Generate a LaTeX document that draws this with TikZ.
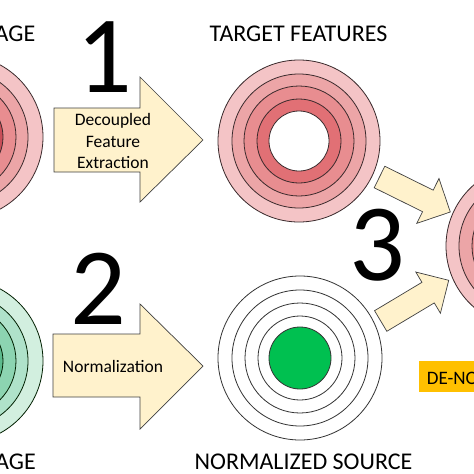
\documentclass[tikz,border=0pt]{standalone}
\usepackage{fontspec}
\setmainfont{Carlito}
\usetikzlibrary{calc}
\definecolor{rA}{HTML}{F4C4C6}
\definecolor{rB}{HTML}{ECA5A7}
\definecolor{rC}{HTML}{E88D90}
\definecolor{rD}{HTML}{E17075}
\definecolor{rE}{HTML}{C94E58}
\definecolor{gA}{HTML}{D2EFDF}
\definecolor{gB}{HTML}{AFE2CA}
\definecolor{gC}{HTML}{8CD4B1}
\definecolor{gD}{HTML}{5DBB8E}
\definecolor{gcore}{HTML}{00C050}
\definecolor{arrowfill}{HTML}{FFF2CC}
\definecolor{boxfill}{HTML}{FFC000}
\definecolor{ringline}{HTML}{3A2A2C}
\tikzset{
  ring/.style={draw=ringline, line width=0.8pt},
  bigarrow/.style={draw=black!75, fill=arrowfill, line width=0.7pt, line join=miter},
  smallarrow/.style={draw=black!75, fill=arrowfill, line width=0.7pt, line join=miter},
  title/.style={inner sep=0pt, anchor=base, font=\fontsize{24}{28}\selectfont, text=black},
  digit/.style={inner sep=0pt, anchor=base, font=\fontsize{110}{120}\selectfont, text=black},
  arrowtext/.style={inner sep=0pt, align=center, font=\fontsize{17.5}{21.5}\selectfont, text=black},
}
\begin{document}
\begin{tikzpicture}[x=1pt,y=-1pt]
\useasboundingbox (0,0) rectangle (474,474);
\fill[white] (0,0) rectangle (474,474);

% left red source image (cut)
\foreach \r/\c in {82/rA,67/rB,55/rC,42/rE}
  \filldraw[ring, fill=\c] (-39,137) circle[radius=\r];
% left green source image (cut)
\foreach \r/\c in {82/gA,67/gB,55/gC,42/gD}
  \filldraw[ring, draw=black!80!green!60!black, fill=\c] (-39,361) circle[radius=\r];

% target features
\foreach \r/\c in {81/rA,67/rB,55/rC,42/rD,30/white}
  \filldraw[ring, fill=\c] (299,141) circle[radius=\r];
\coordinate (tgt) at (299,141);

% normalized source
\foreach \r in {82,68,55,42}
  \filldraw[ring, draw=black!80, fill=white] (300,358) circle[radius=\r];
\filldraw[ring, draw=black!80, fill=gcore] (300,358) circle[radius=31];
\coordinate (nrm) at (300,358);

% right de-normalized image (cut)
\foreach \r/\c in {81/rA,68/rB,55/rC,42/rE}
  \filldraw[ring, fill=\c] (527,246) circle[radius=\r];
\coordinate (out) at (527,246);

% big arrows
\filldraw[bigarrow] (54,108) -- (140,108) -- (140,77) -- (203,140) -- (140,202) -- (140,172) -- (54,172) -- cycle;
\node[arrowtext] (t1) at (113,141) {Decoupled\\Feature\\Extraction};
\filldraw[bigarrow] (53,334) -- (140,334) -- (140,304) -- (203,366) -- (140,429) -- (140,397) -- (53,397) -- cycle;
\node[arrowtext] (t2) at (113,366) {Normalization};

% small arrows
\coordinate (a3t) at (379.5,177);
\coordinate (a3p) at (450.3,212);
\coordinate (a3n) at ($(a3p)!25pt!(a3t)$);
\filldraw[smallarrow] ($(a3t)!12pt!90:(a3p)$) -- ($(a3n)!12pt!90:(a3p)$) -- ($(a3n)!25pt!90:(a3p)$) -- (a3p)
  -- ($(a3n)!25pt!-90:(a3p)$) -- ($(a3n)!12pt!-90:(a3p)$) -- ($(a3t)!12pt!-90:(a3p)$) -- cycle;
\coordinate (a4t) at (380.7,321);
\coordinate (a4p) at (448.7,280.3);
\coordinate (a4n) at ($(a4p)!24pt!(a4t)$);
\filldraw[smallarrow] ($(a4t)!12pt!90:(a4p)$) -- ($(a4n)!12pt!90:(a4p)$) -- ($(a4n)!24pt!90:(a4p)$) -- (a4p)
  -- ($(a4n)!24pt!-90:(a4p)$) -- ($(a4n)!12pt!-90:(a4p)$) -- ($(a4t)!12pt!-90:(a4p)$) -- cycle;

% digits
\node[digit] (d1) at (104.5,92) {1};
\node[digit] (d2) at (98.5,324) {2};
\node[digit] (d3) at (377,280) {3};

% titles
\node[title, anchor=base east] (s1) at (35.5,41) {AGE};
\node[title] (tt) at (298.5,41) {TARGET FEATURES};
\node[title, anchor=base east] (s2) at (36,469) {AGE};
\node[title] (nt) at (303.5,469.5) {NORMALIZED SOURCE};

% de-normalized label box
\fill[boxfill] (419,361) rectangle (480,392);
\node[inner sep=0pt, anchor=base west, font=\fontsize{19}{22}\selectfont, text=black] (dn) at (426.7,384) {DE-NO};
\end{tikzpicture}
\end{document}
